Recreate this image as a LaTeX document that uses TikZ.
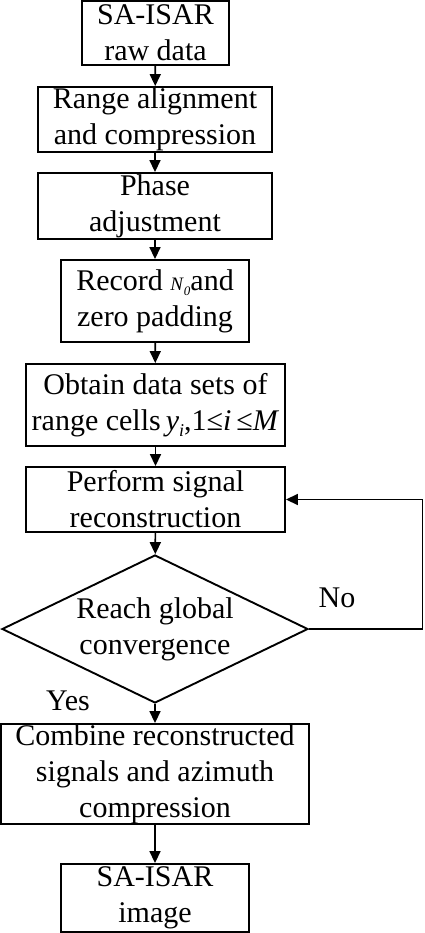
\documentclass[tikz,border=0pt]{standalone}
\usepackage{fontspec}
\setmainfont{Liberation Serif}
\usepackage{tikz}
\usetikzlibrary{arrows.meta,shapes.geometric}

\begin{document}
\begin{tikzpicture}[x=1pt,y=-1pt,
    font=\fontsize{30}{36}\selectfont,
    blocco/.style={draw, line width=1.9pt, align=center, inner sep=0pt},
    rombo/.style={draw, diamond, aspect=2.07, line width=1.9pt, align=center,
        inner sep=0pt, minimum width=306pt, minimum height=148pt},
    freccia/.style={line width=1.7pt, -{Triangle[length=12pt,width=11pt]}}]
            % Riquadro
            \useasboundingbox (0,0) rectangle (424,933);

            % Blocchi
            \node[blocco, minimum width=147pt, minimum height=64pt] (dati) at (155.5,33) {SA-ISAR\\raw data};
            \node[blocco, minimum width=234pt, minimum height=65pt] (allin) at (155,119.5) {Range alignment\\and compression};
            \node[blocco, minimum width=234pt, minimum height=66pt] (fase) at (155,206) {Phase\\adjustment};
            \node[blocco, minimum width=188pt, minimum height=82pt] (zeri) at (155,301) {Record {\fontsize{19}{19}\selectfont\textit{N}\raisebox{-0.3em}{\fontsize{13}{13}\selectfont\textit{0}}}and\\zero padding};
            \node[blocco, minimum width=259pt, minimum height=82pt] (celle) at (155.5,405) {Obtain data sets of\\range cells\,\textit{y}\raisebox{-0.2em}{\fontsize{18}{18}\selectfont\textit{i}},1≤\textit{i}\,≤\textit{M}};
            \node[blocco, minimum width=259pt, minimum height=65pt] (ricostr) at (155.5,499.5) {Perform signal\\reconstruction};
            \node[rombo] (conv) at (155,629) {Reach global\\convergence};
            \node[blocco, minimum width=308pt, minimum height=100pt] (combina) at (155,774) {Combine reconstructed\\signals and azimuth\\compression};
            \node[blocco, minimum width=188pt, minimum height=68pt] (immagine) at (155,898) {SA-ISAR\\image};

            % Etichette
            \node (no) at (337,598) {No};
            \node (si) at (68,701) {Yes};

            % Frecce
            \draw[freccia] (dati) -- (allin);
            \draw[freccia] (allin) -- (fase);
            \draw[freccia] (fase) -- (zeri);
            \draw[freccia] (zeri) -- (celle);
            \draw[freccia] (celle) -- (ricostr);
            \draw[freccia] (ricostr) -- (conv);
            \draw[freccia] (conv) -- (combina);
            \draw[freccia] (combina) -- (immagine);

            % Ritorno
            \coordinate (ritorno) at (422.5,629);
            \draw[freccia] (conv.east) -- (ritorno) |- (ricostr.east);
        \end{tikzpicture}
\end{document}
